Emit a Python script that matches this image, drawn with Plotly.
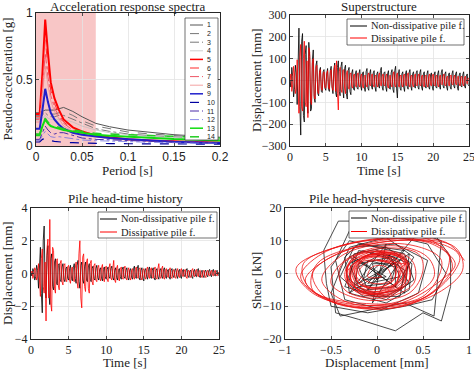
import plotly.graph_objects as go

W, H = 474, 370


def px(x):
    return x / W


def py(y):
    return 1 - y / H


SERIF = "Liberation Serif"
SANS = "Liberation Sans"
INK = "#222222"
GRID = "#e3e3e3"

# ---------------- Panel 1: acceleration response spectra ----------------
period_s = [0, 0.004, 0.007, 0.01, 0.013, 0.016, 0.02, 0.025, 0.03, 0.04,
            0.05, 0.065, 0.08, 0.1, 0.125, 0.15, 0.175, 0.2]
spectrum_01 = [0.25, 0.25, 0.26, 0.27, 0.27, 0.27, 0.27, 0.28, 0.29, 0.26, 0.22, 0.17, 0.145, 0.12, 0.10, 0.085, 0.075, 0.066]
spectrum_02 = [0.23, 0.23, 0.24, 0.26, 0.25, 0.24, 0.24, 0.25, 0.26, 0.23, 0.19, 0.15, 0.13, 0.105, 0.09, 0.077, 0.068, 0.06]
spectrum_03 = [0.21, 0.21, 0.23, 0.25, 0.23, 0.22, 0.22, 0.23, 0.23, 0.20, 0.17, 0.13, 0.11, 0.09, 0.078, 0.068, 0.06, 0.055]
spectrum_04 = [0.19, 0.19, 0.21, 0.23, 0.21, 0.20, 0.20, 0.20, 0.20, 0.18, 0.15, 0.12, 0.10, 0.085, 0.07, 0.062, 0.055, 0.05]
spectrum_05 = [0.24, 0.24, 0.55, 0.95, 0.70, 0.48, 0.36, 0.27, 0.20, 0.14, 0.11, 0.08, 0.065, 0.05, 0.042, 0.035, 0.03, 0.027]
spectrum_06 = [0.22, 0.22, 0.48, 0.80, 0.60, 0.42, 0.32, 0.24, 0.18, 0.13, 0.10, 0.075, 0.06, 0.047, 0.04, 0.034, 0.029, 0.026]
spectrum_07 = [0.20, 0.20, 0.42, 0.70, 0.52, 0.38, 0.29, 0.22, 0.17, 0.12, 0.095, 0.07, 0.057, 0.045, 0.038, 0.032, 0.028, 0.025]
spectrum_08 = [0.18, 0.18, 0.38, 0.60, 0.46, 0.34, 0.26, 0.20, 0.15, 0.11, 0.09, 0.066, 0.054, 0.043, 0.036, 0.03, 0.027, 0.024]
spectrum_09 = [0.13, 0.13, 0.27, 0.43, 0.33, 0.25, 0.20, 0.16, 0.13, 0.10, 0.085, 0.07, 0.06, 0.05, 0.04, 0.032, 0.027, 0.022]
spectrum_10 = [0.03, 0.03, 0.05, 0.06, 0.05, 0.04, 0.035, 0.03, 0.028, 0.025, 0.022, 0.02, 0.018, 0.017, 0.016, 0.015, 0.015, 0.014]
spectrum_11 = [0.05, 0.05, 0.10, 0.15, 0.12, 0.10, 0.09, 0.10, 0.10, 0.08, 0.06, 0.05, 0.045, 0.04, 0.035, 0.03, 0.027, 0.025]
spectrum_12 = [0.04, 0.04, 0.08, 0.11, 0.09, 0.07, 0.065, 0.07, 0.065, 0.055, 0.045, 0.04, 0.036, 0.032, 0.028, 0.025, 0.022, 0.02]
spectrum_13 = [0.08, 0.08, 0.15, 0.20, 0.17, 0.15, 0.14, 0.13, 0.12, 0.11, 0.10, 0.085, 0.078, 0.07, 0.06, 0.052, 0.047, 0.042]
spectrum_14 = [0.09, 0.09, 0.16, 0.21, 0.18, 0.16, 0.15, 0.14, 0.13, 0.12, 0.11, 0.095, 0.09, 0.085, 0.075, 0.07, 0.065, 0.06]
spectrum_labels = ["1", "2", "3", "4", "5", "6", "7", "8", "9", "10", "11", "12", "13", "14"]
shaded_period_end = 0.065

# ---------------- Panels 2-3: time histories (sampled every 0.125 s) ----------------
time_s = [0, 0.125, 0.25, 0.375, 0.5, 0.625, 0.75, 0.875,
          1, 1.125, 1.25, 1.375, 1.5, 1.625, 1.75, 1.875,
          2, 2.125, 2.25, 2.375, 2.5, 2.625, 2.75, 2.875,
          3, 3.125, 3.25, 3.375, 3.5, 3.625, 3.75, 3.875,
          4, 4.125, 4.25, 4.375, 4.5, 4.625, 4.75, 4.875,
          5, 5.125, 5.25, 5.375, 5.5, 5.625, 5.75, 5.875,
          6, 6.125, 6.25, 6.375, 6.5, 6.625, 6.75, 6.875,
          7, 7.125, 7.25, 7.375, 7.5, 7.625, 7.75, 7.875,
          8, 8.125, 8.25, 8.375, 8.5, 8.625, 8.75, 8.875,
          9, 9.125, 9.25, 9.375, 9.5, 9.625, 9.75, 9.875,
          10, 10.125, 10.25, 10.375, 10.5, 10.625, 10.75, 10.875,
          11, 11.125, 11.25, 11.375, 11.5, 11.625, 11.75, 11.875,
          12, 12.125, 12.25, 12.375, 12.5, 12.625, 12.75, 12.875,
          13, 13.125, 13.25, 13.375, 13.5, 13.625, 13.75, 13.875,
          14, 14.125, 14.25, 14.375, 14.5, 14.625, 14.75, 14.875,
          15, 15.125, 15.25, 15.375, 15.5, 15.625, 15.75, 15.875,
          16, 16.125, 16.25, 16.375, 16.5, 16.625, 16.75, 16.875,
          17, 17.125, 17.25, 17.375, 17.5, 17.625, 17.75, 17.875,
          18, 18.125, 18.25, 18.375, 18.5, 18.625, 18.75, 18.875,
          19, 19.125, 19.25, 19.375, 19.5, 19.625, 19.75, 19.875,
          20, 20.125, 20.25, 20.375, 20.5, 20.625, 20.75, 20.875,
          21, 21.125, 21.25, 21.375, 21.5, 21.625, 21.75, 21.875,
          22, 22.125, 22.25, 22.375, 22.5, 22.625, 22.75, 22.875,
          23, 23.125, 23.25, 23.375, 23.5, 23.625, 23.75, 23.875,
          24, 24.125, 24.25, 24.375, 24.5, 24.625, 24.75, 24.875,
          25]

super_nondiss_mm = [0, -30, 60, 20, -75, -40, 70, 35,
                    -110, 150, 240, -120, -250, 180, 215, -160,
                    -190, 120, 160, -90, -150, 175, 110, -140,
                    -130, 95, 140, -80, -100, 70, 90, -60,
                    -70, 45, 60, -50, -55, 40, 50, -35,
                    -45, 30, 55, -40, -50, 45, 65, -30,
                    -60, 50, 80, -55, -75, 60, 90, -50,
                    -70, 65, 85, -40, -80, 55, 70, -60,
                    -85, 45, 60, -50, -65, 35, 50, -40,
                    -45, 30, 45, -35, -40, 30, 50, -25,
                    -45, 35, 40, -30, -50, 40, 55, -35,
                    -45, 30, 50, -25, -40, 35, 45, -30,
                    -50, 30, 40, -25, -35, 45, 60, -30,
                    -45, 35, 40, -30, -50, 30, 45, -35,
                    -40, 35, 50, -40, -55, 45, 65, -35,
                    -80, 30, 50, -35, -45, 30, 40, -30,
                    -50, 30, 45, -30, -40, 35, 50, -25,
                    -45, 30, 40, -25, -35, 35, 45, -30,
                    -40, 35, 50, -30, -45, 30, 40, -25,
                    -35, 30, 45, -30, -40, 25, 35, -30,
                    -45, 25, 40, -30, -35, 30, 45, -25,
                    -40, 35, 50, -25, -35, 30, 40, -30,
                    -45, 25, 35, -30, -40, 30, 45, -25,
                    -35, 30, 40, -30, -45, 25, 35, -25,
                    -30, 25, 40, -25, -35, 20, 30, -20,
                    -25]
super_diss_mm = [0, 30, -50, -20, 65, 30, -60, -35,
                 95, -80, -150, 110, 165, -120, -140, 100,
                 180, -100, -120, 90, -170, 150, 130, -90,
                 -110, 80, 100, -70, -85, 60, 70, -50,
                 -60, 40, 50, -35, -45, 30, 40, -30,
                 -35, 30, 45, -30, -40, 35, 50, -30,
                 -45, 40, 70, -50, 90, -60, -135, 40,
                 60, -40, -55, 45, 50, -35, -60, 30,
                 45, -30, -40, 30, 35, -25, -35, 25,
                 30, -20, -30, 25, 35, -20, -30, 20,
                 30, -25, -35, 20, 25, -20, -30, 25,
                 35, -20, -25, 25, 30, -20, -30, 20,
                 25, -20, -30, 25, 35, -20, -25, 20,
                 30, -20, -25, 20, 30, -25, -35, 20,
                 25, -20, -30, 25, 40, -20, -30, 25,
                 35, -20, -30, 20, 25, -20, -30, 25,
                 30, -20, -25, 25, 35, -20, -30, 20,
                 25, -20, -30, 20, 30, -20, -25, 20,
                 30, -20, -25, 20, 25, -20, -30, 20,
                 25, -20, -30, 20, 30, -20, -25, 20,
                 30, -20, -25, 20, 25, -20, -30, 20,
                 25, -15, -20, 20, 30, -20, -25, 15,
                 20, -15, -25, 20, 25, -15, -20, 15,
                 25, -15, -20, 15, 20, -15, -25, 15,
                 20, -15, -25, 15, 20, -10, -15, 10,
                 10]

pile_nondiss_mm = [0, -0.15, 0.3, 0.1, -0.4, -0.2, 0.5, 0.2,
                   -0.9, 1.0, 1.6, -1.2, -2.4, 2.0, 2.9, -1.0,
                   -1.5, 1.1, 1.7, -1.2, -1.9, 0.9, 1.2, -0.8,
                   -1.0, 0.7, 0.9, -0.6, -0.7, 0.5, 0.6, -0.4,
                   -0.5, 0.4, 0.6, -0.35, -0.5, 0.3, 0.4, -0.3,
                   -0.4, 0.3, 0.5, -0.3, -0.45, 0.35, 0.6, -0.3,
                   -0.6, 0.5, 0.8, -0.5, -0.9, 0.5, 0.7, -0.4,
                   -0.6, 0.45, 0.7, -0.4, -0.5, 0.4, 0.6, -0.35,
                   -0.5, 0.3, 0.45, -0.3, -0.4, 0.3, 0.5, -0.25,
                   -0.4, 0.25, 0.35, -0.3, -0.45, 0.25, 0.4, -0.2,
                   -0.35, 0.25, 0.4, -0.2, -0.3, 0.3, 0.45, -0.25,
                   -0.4, 0.2, 0.35, -0.25, -0.4, 0.2, 0.3, -0.2,
                   -0.35, 0.25, 0.4, -0.2, -0.3, 0.2, 0.35, -0.25,
                   -0.4, 0.2, 0.3, -0.25, -0.35, 0.3, 0.45, -0.2,
                   -0.3, 0.3, 0.5, -0.25, -0.4, 0.2, 0.35, -0.3,
                   -0.45, 0.2, 0.3, -0.2, -0.35, 0.25, 0.4, -0.2,
                   -0.3, 0.2, 0.35, -0.25, -0.4, 0.2, 0.3, -0.2,
                   -0.35, 0.2, 0.3, -0.2, -0.3, 0.25, 0.35, -0.2,
                   -0.3, 0.15, 0.25, -0.2, -0.35, 0.2, 0.3, -0.15,
                   -0.25, 0.2, 0.3, -0.15, -0.3, 0.15, 0.25, -0.2,
                   -0.3, 0.15, 0.25, -0.15, -0.2, 0.2, 0.3, -0.15,
                   -0.25, 0.15, 0.2, -0.2, -0.3, 0.15, 0.25, -0.15,
                   -0.2, 0.2, 0.3, -0.15, -0.25, 0.1, 0.2, -0.15,
                   -0.25, 0.15, 0.2, -0.1, -0.2, 0.15, 0.25, -0.1,
                   -0.2, 0.15, 0.25, -0.1, -0.15, 0.1, 0.2, -0.1,
                   -0.1]
pile_diss_mm = [0, 0.15, -0.3, -0.1, 0.35, 0.2, -0.4, -0.2,
                0.6, -0.5, -1.4, 0.9, 1.5, -0.8, -1.2, 0.7,
                -2.9, 1.5, 2.1, -1.5, 3.3, -1.8, -2.3, 1.6,
                1.4, -0.9, -1.2, 0.8, 0.9, -0.7, -1.0, 0.6,
                0.8, -0.5, -0.7, 0.5, 0.6, -0.4, -0.5, 0.4,
                0.5, -0.4, -0.6, 0.3, 0.4, -0.35, -0.5, 0.3,
                0.7, -0.5, -0.9, 1.2, 2.0, -1.5, -2.1, 1.0,
                1.2, -0.8, -1.1, 0.7, 0.9, -0.9, -1.2, 0.6,
                0.8, -0.5, -0.7, 0.5, 0.6, -0.4, -0.5, 0.35,
                0.5, -0.3, -0.45, 0.35, 0.55, -0.3, -0.5, 0.3,
                0.45, -0.3, -0.5, 0.35, 0.6, -0.25, -0.4, 0.3,
                0.8, -0.4, -0.55, 0.3, 0.5, -0.3, -0.45, 0.25,
                0.4, -0.25, -0.35, 0.3, 0.45, -0.25, -0.4, 0.2,
                0.35, -0.25, -0.4, 0.2, 0.3, -0.2, -0.35, 0.25,
                0.4, -0.2, -0.3, 0.25, 0.35, -0.25, -0.4, 0.2,
                0.3, -0.2, -0.35, 0.25, 0.4, -0.2, -0.3, 0.2,
                0.35, -0.2, -0.3, 0.25, 0.4, -0.25, -0.35, 0.3,
                0.6, -0.2, -0.3, 0.3, 0.45, -0.25, -0.35, 0.2,
                0.3, -0.15, -0.25, 0.2, 0.35, -0.2, -0.3, 0.15,
                0.25, -0.2, -0.3, 0.15, 0.3, -0.15, -0.25, 0.2,
                0.3, -0.15, -0.2, 0.15, 0.25, -0.2, -0.3, 0.15,
                0.2, -0.15, -0.25, 0.2, 0.3, -0.1, -0.2, 0.15,
                0.25, -0.1, -0.2, 0.15, 0.2, -0.15, -0.25, 0.1,
                0.2, -0.15, -0.25, 0.1, 0.2, -0.1, -0.15, 0.1,
                0.2, -0.1, -0.15, 0.1, 0.2, -0.1, -0.15, 0.05,
                0.05]

# ---------------- Panel 4: hysteresis (shear vs displacement) ----------------
hyst_nondiss_disp = [0, 0.2, -0.2, -0.35, 0.1, 0.4, 0.3, -0.3, -0.5, -0.45, -0.2, 0.2, 0.5, 0.7,
                     0.8, 0.8, 0.65, 0.4, -0.18, -0.42, -0.58, -0.55, -0.5, -0.1, 0.3, 0.6, 0.75,
                     0.55, 0.1, -0.3, -0.45, -0.35, 0.05, 0.45, 0.55, 0.2, -0.25, -0.4, -0.15,
                     0.25, 0.35, 0.0, -0.3, -0.2, 0.15, 0.2, -0.1, -0.15, 0.1, -0.25, 0.3, 0.35,
                     -0.3, 0.1, -0.05, 0.25, -0.2, 0.15, -0.1, 0.05,
                     0.3, -0.2, -0.35, -0.3, 0.1, 0.35, 0.38, 0.1, -0.25, -0.3, -0.05, 0.25,
                     0.3, 0.05, -0.2, -0.1, 0.2, 0.2, -0.05, 0.0,
                     0.45, 0.7, 0.62, 0.3, -0.4, -0.5, -0.3, 0.1, 0.4, 0.2, -0.1,
                     -0.3, -0.15, 0.2, 0.35, 0.1, -0.25, -0.2, 0.15, 0.25, -0.1, 0]
hyst_nondiss_shear = [0, 5, 7, -4, -8, -2, 6, 10, 2, -12, -14, -17.5, -12, -14.5,
                      -4, 5, 11, 13, 16, 16, 7, -3, -10, -12, -10, -8, 0,
                      9, 12, 13, 4, -8, -11, -6, 4, 9, 8, -1, -7,
                      -5, 3, 7, 3, -4, -3, 2, 4, -2, -1, 5, -6, 6,
                      -6, 9, -9, 4, -3, 6, -5, 0,
                      7, 9, 5, -6, -9, -5, 3, 8, 6, -2, -7, -7,
                      1, 6, 2, -5, -4, 3, 3, -2,
                      12.5, 10, -13, -9, -13, -6, 8, 11, 5, -4, 2,
                      5, 7, 4, -3, -7, -4, 3, 5, -1, -3, 0]
hyst_diss_disp = [0.95, 0.75, 0.2, -0.45, -0.88, -0.7, -0.1, 0.55,
                  0.93, 0.85, 0.3, -0.3, -0.8, -0.75, -0.3, 0.4,
                  0.82, 0.6, -0.05, -0.6, -0.83, -0.55, 0.1, 0.65,
                  0.9, 0.7, 0.1, -0.5, -0.78, -0.6, 0.0, 0.6,
                  0.78, 0.4, -0.3, -0.7, -0.5, 0.2, 0.7,
                  0.85, 0.55, -0.15, -0.65, -0.7, -0.2, 0.5,
                  0.7, 0.3, -0.35, -0.6, -0.3, 0.3, 0.62,
                  0.55, 0.15, -0.35, -0.5, -0.15, 0.35, 0.5,
                  0.45, 0.0, -0.4, -0.35, 0.05, 0.4,
                  0.38, 0.05, -0.3, -0.3, 0.1, 0.35,
                  0.3, -0.05, -0.33, -0.15, 0.25, 0.32,
                  0.2, -0.2, -0.28, 0.0, 0.28, 0.15,
                  -0.1, -0.25, -0.1, 0.2, 0.22, 0.0,
                  0.35, 0.1, -0.25, -0.35, -0.2, 0.15, 0.35,
                  0.3, 0.0, -0.3, -0.3, 0.0, 0.3,
                  0.25, -0.1, -0.3, -0.2, 0.1, 0.3,
                  0.2, -0.15, -0.25, -0.1, 0.2, 0.25,
                  0.32, 0.12, -0.2, -0.33, -0.25, 0.05, 0.3,
                  0.28, -0.05, -0.28, -0.25, 0.05, 0.28,
                  0.22, -0.12, -0.27, -0.15, 0.15, 0.26,
                  0.15, -0.15, -0.22, -0.05, 0.18, 0.2,
                  0.1, -0.2, -0.2, 0.05, 0.2, 0.15, -0.1, -0.2, -0.05, 0.15, 0.1, -0.05, -0.1, 0.05, 0]
hyst_diss_shear = [4, 9.5, 10.8, 8, 1.5, -6, -10.3, -7.5,
                   1, 8, 10.5, 9, 3, -4, -10, -9,
                   2, 10, 10.5, 6, -1, -8, -10.8, -5,
                   5, 9, 9.8, 5, -2, -7, -9.8, -6,
                   6, 10.6, 7.5, 0, -8.5, -9.5, -2,
                   3, 9.5, 8.5, 3, -5, -9, -7,
                   4, 9, 6, -2, -9, -8, -1,
                   5, 8.5, 4, -3, -8, -6, 1,
                   6, 7.5, 2, -5, -7.5, -3,
                   4, 7, 3, -4, -6.5, -2,
                   5, 6, 0, -6, -4, 2,
                   5.5, 4, -2, -5.5, -1, 4,
                   5, 1, -4, -3, 2, 4,
                   3, 6.5, 5, -1, -6, -6.5, -2,
                   4, 6, 3, -3, -6, -3,
                   5, 5.5, 1, -5, -5.5, 0,
                   4.5, 4.5, -1, -4.5, -3.5, 1,
                   4, 6.5, 6, 1, -4, -6.5, -3,
                   5, 6, 2, -4, -6, -2,
                   4, 5.5, 0, -5, -4.5, 1,
                   4.5, 4, -2, -4.5, -2, 3,
                   4, 3, -3, -4, -1, 3, 3.5, 0, -3, -2, 2, 2, -1, -1, 0]

fig = go.Figure()

spectra = [spectrum_01, spectrum_02, spectrum_03, spectrum_04, spectrum_05, spectrum_06, spectrum_07,
           spectrum_08, spectrum_09, spectrum_10, spectrum_11, spectrum_12, spectrum_13, spectrum_14]
spec_styles = [
    ("#555555", "solid", 1.0), ("#777777", "dash", 1.0), ("#777777", "dashdot", 1.0), ("#c0c0c0", "solid", 0.8),
    ("#ff0000", "solid", 2.0), ("#ff2a2a", "dash", 1.0), ("#ee5566", "dashdot", 1.0), ("#f08a8a", "solid", 0.8),
    ("#2020cc", "solid", 2.0), ("#0000a0", "dash", 1.2), ("#4a2aa8", "dashdot", 1.0), ("#6f6fe0", "dashdot", 0.8),
    ("#10dd10", "solid", 2.0), ("#22cc22", "dash", 1.5),
]
for lab, vals, (c, d, w) in zip(spectrum_labels, spectra, spec_styles):
    fig.add_trace(go.Scatter(x=period_s, y=vals, mode="lines", name=lab, showlegend=False,
                             line=dict(color=c, dash=d, width=w), xaxis="x", yaxis="y"))

NONDISS = "Non-dissipative pile f."
DISS = "Dissipative pile f."
fig.add_trace(go.Scatter(x=time_s, y=super_nondiss_mm, mode="lines", name=NONDISS, showlegend=False,
                         line=dict(color="#000000", width=0.8), xaxis="x2", yaxis="y2"))
fig.add_trace(go.Scatter(x=time_s, y=super_diss_mm, mode="lines", name=DISS, showlegend=False,
                         line=dict(color="#ff0000", width=0.8), xaxis="x2", yaxis="y2"))
fig.add_trace(go.Scatter(x=time_s, y=pile_nondiss_mm, mode="lines", name=NONDISS, showlegend=False,
                         line=dict(color="#000000", width=0.8), xaxis="x3", yaxis="y3"))
fig.add_trace(go.Scatter(x=time_s, y=pile_diss_mm, mode="lines", name=DISS, showlegend=False,
                         line=dict(color="#ff0000", width=0.8), xaxis="x3", yaxis="y3"))
fig.add_trace(go.Scatter(x=hyst_nondiss_disp, y=hyst_nondiss_shear, mode="lines", name=NONDISS, showlegend=False,
                         line=dict(color="#1a1a1a", width=0.8), xaxis="x4", yaxis="y4"))
fig.add_trace(go.Scatter(x=hyst_diss_disp, y=hyst_diss_shear, mode="lines", name=DISS, showlegend=False,
                         line=dict(color="#ee1111", width=0.8, shape="spline", smoothing=1.0),
                         xaxis="x4", yaxis="y4"))


def axis(dom, rng, dtick, sans=False, anchor=None):
    return dict(domain=dom, range=rng, dtick=dtick, tick0=rng[0], anchor=anchor, automargin=False,
                showline=True, linecolor="#262626", linewidth=1, mirror="ticks",
                ticks="inside", ticklen=3, tickcolor="#262626", tickwidth=0.8,
                showgrid=True, gridcolor=GRID, gridwidth=0.8, zeroline=False,
                ticklabeloverflow="allow",
                tickfont=dict(family=SANS if sans else SERIF, size=12, color=INK))


fig.update_layout(
    template="none",
    width=W, height=H, margin=dict(l=0, r=0, t=0, b=0, pad=0), autosize=False,
    paper_bgcolor="white", plot_bgcolor="white", showlegend=False,
    xaxis=axis([px(36), px(220)], [0, 0.2], 0.05, sans=True, anchor="y"),
    yaxis=axis([py(146), py(13)], [0, 1], 0.5, sans=True, anchor="x"),
    xaxis2=axis([px(290), px(469)], [0, 25], 5, anchor="y2"),
    yaxis2=axis([py(146), py(15)], [-300, 300], 100, anchor="x2"),
    xaxis3=axis([px(31), px(219)], [0, 25], 5, anchor="y3"),
    yaxis3=axis([py(339), py(208)], [-4, 4], 2, anchor="x3"),
    xaxis4=axis([px(285), px(469)], [-1, 1], 0.5, anchor="y4"),
    yaxis4=axis([py(339), py(208)], [-20, 20], 10, anchor="x4"),
)
fig.update_layout(xaxis=dict(tickformat="~g"), xaxis4=dict(tickformat="~g"))

shapes = [dict(type="rect", xref="x", yref="y domain", x0=0, x1=shaded_period_end, y0=0, y1=1,
               fillcolor="rgba(240,128,128,0.45)", line=dict(width=0), layer="below")]
annotations = []


def text(x, y, s, size=13, angle=0, family=SERIF, xanchor="center"):
    annotations.append(dict(xref="paper", yref="paper", x=px(x), y=py(y), text=s, showarrow=False,
                            textangle=angle, xanchor=xanchor, yanchor="middle",
                            font=dict(family=family, size=size, color=INK)))


text(128, 6, "Acceleration response spectra")
text(379, 6, "Superstructure")
text(125, 198, "Pile head-time history")
text(377, 198, "Pile head-hysteresis curve")
text(128, 171, "Period [s]")
text(7, 79.5, "Pseudo-acceleration [g]", angle=-90)
text(379, 171, "Time [s]")
text(256, 80, "Displacement [mm]", angle=-90)
text(125, 362, "Time [s]")
text(7, 273, "Displacement [mm]", angle=-90)
text(377, 362, "Displacement [mm]")
text(256, 280, "Shear [kN]", angle=-90)


def legend_box(x0, x1, y0, y1, rows, lx0, lx1, tx, size, family):
    shapes.append(dict(type="rect", xref="paper", yref="paper", x0=px(x0), x1=px(x1), y0=py(y1), y1=py(y0),
                       fillcolor="white", line=dict(color="#333333", width=0.7), layer="above"))
    for yy, lab, c, d, w in rows:
        shapes.append(dict(type="line", xref="paper", yref="paper", x0=px(lx0), x1=px(lx1), y0=py(yy), y1=py(yy),
                           line=dict(color=c, dash=d, width=w), layer="above"))
        text(tx, yy, lab, size=size, family=family, xanchor="left")


legend_box(185, 218, 18, 140,
           [(25 + 8.6 * i, spectrum_labels[i], spec_styles[i][0], spec_styles[i][1], min(spec_styles[i][2], 1.5))
            for i in range(14)], 190, 203, 204.5, 7, SANS)
legend_box(347, 464, 19, 45, [(26, NONDISS, "#000000", "solid", 1), (38, DISS, "#ff0000", "solid", 1)],
           350, 367, 368.5, 10.5, SERIF)
legend_box(98, 217, 212, 238, [(219, NONDISS, "#000000", "solid", 1), (232, DISS, "#ff0000", "solid", 1)],
           100, 117, 118.5, 10.5, SERIF)
legend_box(349, 466, 211, 238, [(218, NONDISS, "#000000", "solid", 1), (231.5, DISS, "#ff0000", "solid", 1)],
           351, 367, 368.5, 10.5, SERIF)

fig.update_layout(shapes=shapes, annotations=annotations)
fig.write_html("out.html", config={"displayModeBar": False, "staticPlot": True},
               post_script="document.body.style.margin='0px';document.body.style.overflow='hidden';")
